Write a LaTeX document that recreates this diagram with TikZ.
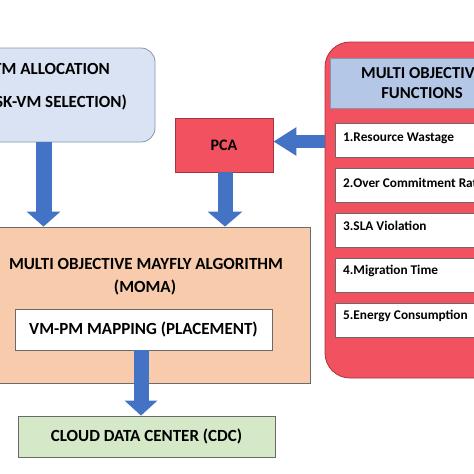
\documentclass[tikz,border=0pt]{standalone}
\usepackage{fontspec}
\setmainfont{Carlito}
\usetikzlibrary{arrows.meta,calc}
\definecolor{vmfill}{HTML}{DAE3F3}
\definecolor{vmdraw}{HTML}{8497B0}
\definecolor{redfill}{HTML}{F2525F}
\definecolor{reddraw}{HTML}{A8323E}
\definecolor{hdrfill}{HTML}{B4C7E7}
\definecolor{orfill}{HTML}{F8CBAD}
\definecolor{grfill}{HTML}{D5E8C8}
\definecolor{arblue}{HTML}{4472C4}
\definecolor{bord}{HTML}{6A6A6A}
\begin{document}
\begin{tikzpicture}[x=1pt,y=-1pt,
  box/.style={draw=bord,line width=0.8pt,inner sep=0pt,minimum width=#1},
  lbl/.style={inner sep=0pt,font=\fontsize{17}{20}\selectfont\bfseries},
  ftxt/.style={inner sep=0pt,font=\fontsize{13.3}{16}\selectfont\bfseries},
  fbox/.style={fill=white,draw=bord,line width=0.8pt,minimum width=175pt,minimum height=34pt,inner sep=0pt},
  barrow/.style={draw=arblue,line width=#1}
]
\useasboundingbox (0,0) rectangle (474,474);
\clip (0,0) rectangle (474,474);
\fill[white] (0,0) rectangle (474,474);

% VM allocation box
\node[box=200pt,minimum height=94pt,fill=vmfill,draw=vmdraw,rounded corners=14pt] (vm) at (55,95) {};
\node[lbl,anchor=east] (vmt1) at (110,69) {TM ALLOCATION};
\node[lbl,anchor=east] (vmt2) at (127,102) {SK-VM SELECTION)};

% PCA
\node[box=98pt,minimum height=54pt,fill=redfill,draw=reddraw] (pca) at (224,145) {};
\node[lbl,font=\fontsize{16}{19}\selectfont\bfseries] (pcat) at (pca.center) {PCA};

% Multi objective functions
\node[box=195pt,minimum height=336pt,fill=redfill,draw=reddraw,rounded corners=25pt] (mof) at (422.5,210) {};
\node[box=184pt,minimum height=50pt,fill=hdrfill,draw=vmdraw,align=center,lbl,font=\fontsize{16.7}{20}\selectfont\bfseries] (hdr) at (422,83) {MULTI OBJECTIVE\\FUNCTIONS};
\node[fbox] (f1) at (422.5,140) {};
\node[fbox] (f2) at (422.5,185) {};
\node[fbox] (f3) at (422.5,230) {};
\node[fbox] (f4) at (422.5,275) {};
\node[fbox] (f5) at (422.5,320) {};
\node[ftxt,anchor=west] (f1t) at (343,138) {1.Resource Wastage};
\node[ftxt,anchor=west] (f2t) at (343,183) {2.Over Commitment Ratio};
\node[ftxt,anchor=west] (f3t) at (343,226) {3.SLA Violation};
\node[ftxt,anchor=west] (f4t) at (343,271) {4.Migration Time};
\node[ftxt,anchor=west] (f5t) at (343,316) {5.Energy Consumption};

% MOMA
\node[box=312pt,minimum height=156pt,fill=orfill] (moma) at (154,305) {};
\node[lbl] (mt1) at (146,264) {MULTI OBJECTIVE MAYFLY ALGORITHM};
\node[lbl] (mt2) at (145,287) {(MOMA)};
\node[box=257pt,minimum height=41pt,fill=white,lbl] (map) at (143.5,329.5) {VM-PM MAPPING (PLACEMENT)};

% CDC
\node[box=257pt,minimum height=41pt,fill=grfill,lbl] (cdc) at (146.5,436.5) {CLOUD DATA CENTER (CDC)};

% arrows
\coordinate (a1) at (vm.south -| 43.5,0);
\coordinate (a2) at (pca.south -| 225,0);
\coordinate (a3) at (mof.west |- 0,141.5);
\coordinate (a4) at (map.south -| 141,0);
\draw[barrow=16pt,-{Triangle[width=33pt,length=15pt]}] (a1) -- (a1 |- moma.north);
\draw[barrow=15pt,-{Triangle[width=34pt,length=15pt]}] (a2) -- (a2 |- moma.north);
\draw[barrow=13pt,-{Triangle[width=27pt,length=23pt]}] (a3) -- (a3 -| pca.east);
\draw[barrow=15pt,-{Triangle[width=32pt,length=15pt]}] (a4) -- (a4 |- cdc.north);
\end{tikzpicture}
\end{document}
